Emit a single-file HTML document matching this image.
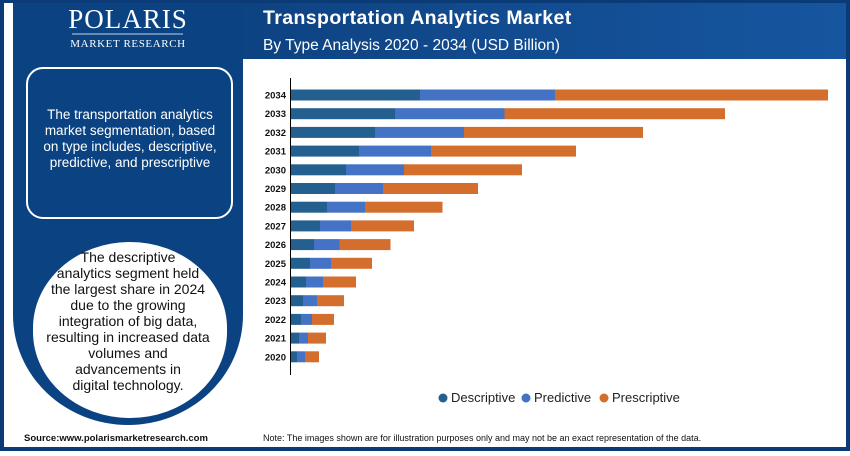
<!DOCTYPE html>
<html><head><meta charset="utf-8"><style>
body{margin:0;width:850px;height:451px;overflow:hidden;font-family:"Liberation Sans",Arial,sans-serif}
</style></head><body>
<svg width="850" height="451" xmlns="http://www.w3.org/2000/svg" font-family="Liberation Sans, Arial, sans-serif">
<defs><linearGradient id="g" x1="0" x2="1" y1="0" y2="0"><stop offset="0" stop-color="#0b3b76"/><stop offset="1" stop-color="#1656a0"/></linearGradient></defs>
<rect width="850" height="451" fill="#fff"/>
<rect x="0" y="0" width="850" height="59" fill="url(#g)"/>
<path d="M13 0 H243 V315 A115 110 0 0 1 13 315 Z" fill="#0b4382"/>
<rect x="0" y="0" width="4" height="451" fill="#0b3b76"/>
<rect x="846" y="0" width="4" height="451" fill="#0b3b76"/>
<rect x="0" y="447" width="850" height="4" fill="#0b3b76"/>
<rect x="0" y="0" width="850" height="3" fill="#0b3b76"/>
<rect x="4" y="3" width="9" height="425" fill="#fff"/>
<text x="128" y="28" fill="#fff" font-family="Liberation Serif, serif" font-size="27" text-anchor="middle" letter-spacing="1">POLARIS</text>
<line x1="72" y1="34" x2="183" y2="34" stroke="#fff" stroke-width="0.7"/>
<text x="128" y="47" fill="#fff" font-family="Liberation Serif, serif" font-size="11" text-anchor="middle" letter-spacing="0.6">MARKET RESEARCH</text>
<rect x="27" y="68" width="205" height="150" rx="16" fill="#0b4382" stroke="#fff" stroke-width="2"/>
<g fill="#fff" font-size="13.5" text-anchor="middle">
<text x="130" y="119">The transportation analytics</text>
<text x="130" y="135">market segmentation, based</text>
<text x="130" y="151">on type includes, descriptive,</text>
<text x="130" y="167">predictive, and prescriptive</text>
</g>
<rect x="33" y="242" width="194" height="176" rx="97" ry="86" fill="#fff"/>
<g fill="#111" font-size="14" text-anchor="middle">
<text x="128" y="262">The descriptive</text>
<text x="128" y="278">analytics segment held</text>
<text x="128" y="294">the largest share in 2024</text>
<text x="128" y="310">due to the growing</text>
<text x="128" y="326">integration of big data,</text>
<text x="128" y="342">resulting in increased data</text>
<text x="128" y="358">volumes and</text>
<text x="128" y="374">advancements in</text>
<text x="128" y="390">digital technology.</text>
</g>
<text x="263" y="24" fill="#fff" font-size="19.5" font-weight="bold" letter-spacing="0.4">Transportation Analytics Market</text>
<text x="263" y="50" fill="#fff" font-size="15.5">By Type Analysis 2020 - 2034 (USD Billion)</text>
<line x1="290.5" y1="78" x2="290.5" y2="375" stroke="#000" stroke-width="1"/>
<g id="bars"></g>
<g font-size="9.5" font-weight="bold" fill="#111" text-anchor="end" id="labels"></g>
<g font-size="13" fill="#222">
<circle cx="443" cy="398" r="4.5" fill="#24608f"/><text x="451" y="402">Descriptive</text>
<circle cx="526" cy="398" r="4.5" fill="#4472c4"/><text x="534" y="402">Predictive</text>
<circle cx="604" cy="398" r="4.5" fill="#d46e2c"/><text x="612" y="402">Prescriptive</text>
</g>
<text x="24" y="441" font-size="9.5" font-weight="bold" fill="#111">Source:www.polarismarketresearch.com</text>
<text x="263" y="441" font-size="9" fill="#111">Note: The images shown are for illustration purposes only and may not be an exact representation of the data.</text>
<script>
var d=[[2034,420,555,828],[2033,395,504.5,725],[2032,375,464,643],[2031,359,431,576],[2030,346,404,522],[2029,335,383,478],[2028,327,365,442.5],[2027,320,351,414],[2026,314,339.5,390.5],[2025,310,331,372],[2024,306,323,356],[2023,303,317,344],[2022,301,312,334],[2021,299,308,326],[2020,297,305,319]];
var b=document.getElementById('bars'),l=document.getElementById('labels'),ns='http://www.w3.org/2000/svg';
d.forEach(function(r,i){var y=89.5+i*18.7;var xs=[291,r[1],r[2],r[3]],c=['#24608f','#4472c4','#d46e2c'];
for(var k=0;k<3;k++){var e=document.createElementNS(ns,'rect');e.setAttribute('x',xs[k]);e.setAttribute('y',y);e.setAttribute('width',xs[k+1]-xs[k]);e.setAttribute('height',11);e.setAttribute('fill',c[k]);b.appendChild(e);}
var t=document.createElementNS(ns,'text');t.setAttribute('x',286);t.setAttribute('y',y+9);t.textContent=r[0];l.appendChild(t);});
</script>
</svg>
</body></html>
